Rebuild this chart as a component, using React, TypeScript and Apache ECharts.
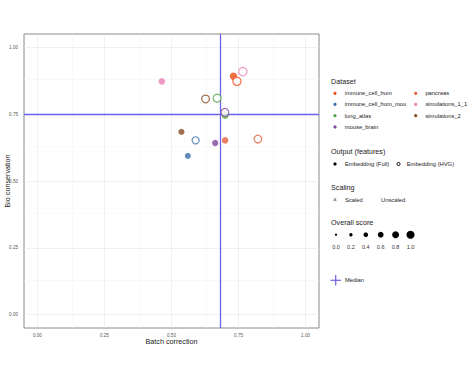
import React, { useEffect, useRef } from "react";
import * as echarts from "echarts";

const datasets = ["immune_cell_hum", "immune_cell_hum_mou", "lung_atlas", "mouse_brain", "pancreas", "simulations_1_1", "simulations_2"];
const datasetColors = ["#EE4E16", "#3C6FA8", "#52A64A", "#7E479C", "#E2603A", "#E881B5", "#8A4B22"];

const pointDataset = ["immune_cell_hum", "immune_cell_hum", "pancreas", "pancreas", "immune_cell_hum_mou", "immune_cell_hum_mou", "lung_atlas", "lung_atlas", "mouse_brain", "mouse_brain", "simulations_1_1", "simulations_1_1", "simulations_2", "simulations_2"];
const pointOutput = ["Full", "HVG", "Full", "HVG", "Full", "HVG", "Full", "HVG", "Full", "HVG", "Full", "HVG", "Full", "HVG"];
const batchCorrection = [0.731, 0.744, 0.700, 0.822, 0.561, 0.590, 0.700, 0.670, 0.663, 0.699, 0.464, 0.766, 0.537, 0.627];
const bioConservation = [0.892, 0.873, 0.652, 0.657, 0.594, 0.652, 0.745, 0.810, 0.642, 0.757, 0.873, 0.909, 0.684, 0.807];

const tickValues = [0, 0.25, 0.5, 0.75, 1];
const minorValues = [0.125, 0.375, 0.625, 0.875];
const scoreLegend = [0, 0.2, 0.4, 0.6, 0.8, 1.0];
const outputLabels = ["Embedding (Full)", "Embedding (HVG)"];
const scalingLabels = ["Scaled", "Unscaled"];

const FONT = "Liberation Sans, Arial, sans-serif";
const MEDIAN_COLOR = "#6A62E6";

function median(a: number[]) {
  const s = [...a].sort((x, y) => x - y);
  const m = Math.floor(s.length / 2);
  return s.length % 2 ? s[m] : (s[m - 1] + s[m]) / 2;
}
const sizeFor = (score: number) => 2.3 + 5.8 * score;

export default function App() {
  const ref = useRef<HTMLDivElement>(null);
  useEffect(() => {
    document.body.style.margin = "0";
    const chart = echarts.init(ref.current!, undefined, { renderer: "svg" });
    const colorOf = (d: string) => datasetColors[datasets.indexOf(d)];
    const data = batchCorrection.map((x, i) => {
      const y = bioConservation[i];
      const score = 0.6 * y + 0.4 * x;
      const c = colorOf(pointDataset[i]);
      const full = pointOutput[i] === "Full";
      return {
        value: [x, y],
        symbolSize: sizeFor(score) + (full ? 0.3 : 1.2),
        itemStyle: full
          ? { color: c, borderWidth: 0 }
          : { color: "#ffffff", borderColor: c, borderWidth: 1.2 },
      };
    });
    const medX = median(batchCorrection);
    const medY = median(bioConservation);

    const gridLines = (vals: number[], color: string, width: number) =>
      vals.flatMap((v) => [
        { xAxis: v, lineStyle: { color, width, type: "solid" } },
        { yAxis: v, lineStyle: { color, width, type: "solid" } },
      ]);

    const LX = 335;
    const graphics: any[] = [];
    const text = (t: string, x: number, y: number, size: number, align = "left", color = "#1a1a1a") =>
      graphics.push({
        type: "text",
        x,
        y,
        style: { text: t, fontSize: size, fontFamily: FONT, fill: color, textAlign: align, textVerticalAlign: "middle" },
      });
    // Dataset
    text("Dataset", 331, 81, 7.2);
    const rows = [93.3, 104.3, 115.7, 127];
    datasets.forEach((d, i) => {
      const col = i < 4 ? 0 : 1;
      const r = i < 4 ? i : i - 4;
      const dx = col === 0 ? LX : 415.7;
      graphics.push({ type: "circle", shape: { cx: dx, cy: rows[r], r: 1.6 }, style: { fill: datasetColors[i] } });
      text(d, dx + 9.7, rows[r], 5.8);
    });
    // Output
    text("Output (features)", 331, 151, 7.2);
    graphics.push({ type: "circle", shape: { cx: LX, cy: 164, r: 1.6 }, style: { fill: "#000" } });
    text(outputLabels[0], 345, 164, 5.8);
    graphics.push({ type: "circle", shape: { cx: 398.5, cy: 164, r: 1.6 }, style: { fill: "#fff", stroke: "#000", lineWidth: 1 } });
    text(outputLabels[1], 406.7, 164, 5.8);
    // Scaling
    text("Scaling", 331, 187.5, 7.2);
    text("×", LX, 199.5, 6.5, "center", "#333");
    text(scalingLabels[0], 345, 199.5, 5.8);
    text(scalingLabels[1], 381, 199.5, 5.8);
    // Overall score
    text("Overall score", 331, 222.7, 7.2);
    scoreLegend.forEach((s, i) => {
      const cx = 336 + i * 14.9;
      graphics.push({ type: "circle", shape: { cx, cy: 234.7, r: sizeFor(s) / 2 }, style: { fill: "#000" } });
      text(s.toFixed(1), cx, 247, 5.5, "center", "#333");
    });
    // Median
    graphics.push({ type: "line", shape: { x1: 330.5, y1: 280.3, x2: 341, y2: 280.3 }, style: { stroke: MEDIAN_COLOR, lineWidth: 1.2 } });
    graphics.push({ type: "line", shape: { x1: 335.7, y1: 275, x2: 335.7, y2: 285.6 }, style: { stroke: MEDIAN_COLOR, lineWidth: 1.2 } });
    text("Median", 345, 280.3, 5.8);

    const axisCommon = {
      type: "value",
      min: -0.05,
      max: 1.05,
      nameLocation: "middle",
      nameMoveOverlap: false,
      nameTextStyle: { fontFamily: FONT, fontSize: 7.2, color: "#1a1a1a" },
      axisLine: { show: false },
      axisTick: { show: false },
      splitLine: { show: false },
      axisLabel: {
        customValues: tickValues,
        formatter: (v: number) => v.toFixed(2),
        fontFamily: FONT,
        fontSize: 4.6,
        color: "#555",
      },
    };

    chart.setOption({
      animation: false,
      grid: {
        left: 24, top: 34, width: 295, height: 294,
        outerBoundsMode: "none", containLabel: false,
        show: true, borderColor: "#8a8a8a", borderWidth: 1, backgroundColor: "transparent",
      },
      xAxis: { ...axisCommon, name: "Batch correction", nameGap: 10, axisLabel: { ...axisCommon.axisLabel, margin: 5 } },
      yAxis: { ...axisCommon, name: "Bio conservation", nameGap: 13, nameRotate: 90, axisLabel: { ...axisCommon.axisLabel, margin: 6 } },
      series: [
        {
          type: "line",
          data: [],
          silent: true,
          z: 1,
          markLine: {
            silent: true,
            symbol: "none",
            label: { show: false },
            data: [...gridLines(minorValues, "#f3f3f3", 0.5), ...gridLines(tickValues, "#e6e6e6", 0.6)],
          },
        },
        {
          type: "line",
          data: [],
          silent: true,
          z: 2,
          markLine: {
            silent: true,
            symbol: "none",
            label: { show: false },
            data: [
              { xAxis: medX, lineStyle: { color: MEDIAN_COLOR, width: 1.3, type: "solid" } },
              { yAxis: medY, lineStyle: { color: MEDIAN_COLOR, width: 1.3, type: "solid" } },
            ],
          },
        },
        {
          type: "scatter",
          z: 5,
          symbol: "circle",
          data,
        },
      ],
      graphic: graphics,
    });
    return () => chart.dispose();
  }, []);
  return <div ref={ref} style={{ width: 474, height: 379 }} />;
}
